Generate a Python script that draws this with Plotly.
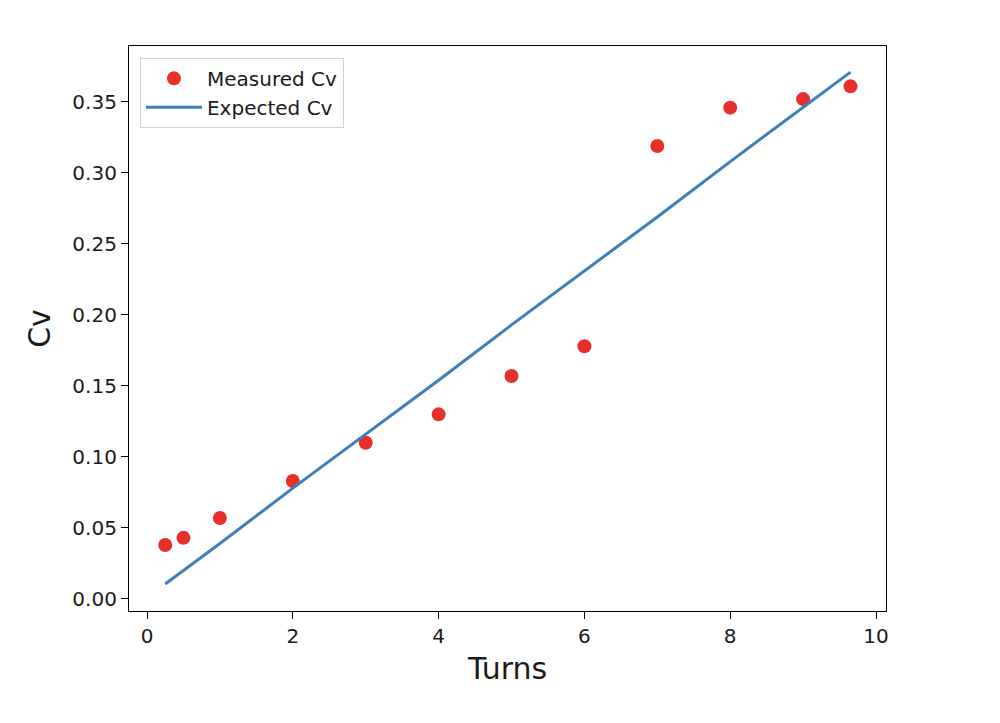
import plotly.graph_objects as go

turns = [0.25, 0.5, 1, 2, 3, 4, 5, 6, 7, 8, 9, 9.65]
measured_cv = [0.038, 0.043, 0.057, 0.083, 0.110, 0.130, 0.157, 0.178, 0.319, 0.346, 0.352, 0.361]
expected_cv = [0.0105, 0.020, 0.039, 0.078, 0.116, 0.154, 0.193, 0.231, 0.269, 0.308, 0.346, 0.371]
x_ticks = [0, 2, 4, 6, 8, 10]
y_ticks = [0.00, 0.05, 0.10, 0.15, 0.20, 0.25, 0.30, 0.35]

font = "DejaVu Sans"
fig = go.Figure()
fig.add_trace(go.Scatter(x=turns, y=measured_cv, mode="markers", name="Measured Cv",
                         legendgroup="a",
                         marker=dict(color="#e8302a", size=14, line=dict(width=0))))
fig.add_trace(go.Scatter(x=turns, y=expected_cv, mode="lines", name="Expected Cv",
                         legendgroup="b",
                         line=dict(color="#3f7fb9", width=3)))

axis_common = dict(showline=True, mirror=True, linecolor="black", linewidth=1.2,
                   ticks="outside", ticklen=7, tickwidth=1.2, tickcolor="black",
                   showgrid=False, zeroline=False,
                   tickfont=dict(family=font, size=20, color="#1a1a1a"))
fig.update_xaxes(range=[-0.247, 10.137], tickvals=x_ticks, ticktext=[str(v) for v in x_ticks],
                 title=dict(text="Turns", font=dict(family=font, size=30, color="#1a1a1a"), standoff=10),
                 **axis_common)
fig.update_yaxes(range=[-0.0085, 0.3894], tickvals=y_ticks, ticktext=[f"{v:.2f}" for v in y_ticks],
                 title=dict(text="Cv", font=dict(family=font, size=30, color="#1a1a1a"), standoff=12),
                 **axis_common)
fig.update_layout(
    width=1000, height=723,
    margin=dict(l=129, r=114, t=46, b=112),
    plot_bgcolor="white", paper_bgcolor="white",
    legend=dict(x=0.0145, y=0.979, xanchor="left", yanchor="top",
                bordercolor="#d3d3d3", borderwidth=1, bgcolor="rgba(255,255,255,0.8)",
                font=dict(family=font, size=20, color="#1a1a1a"), tracegroupgap=0,
                itemwidth=56),
    showlegend=True,
)
fig.write_html("out.html")
